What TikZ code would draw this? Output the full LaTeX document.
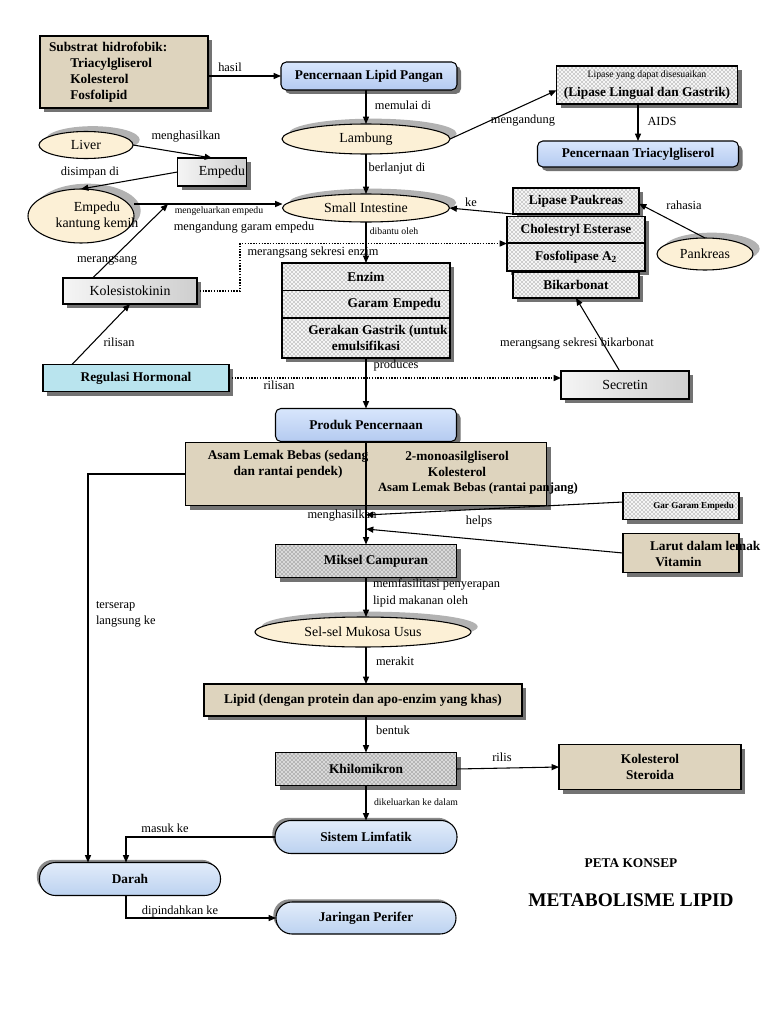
\documentclass[tikz,border=0pt]{standalone}
\usepackage{fontspec}
\setmainfont{Liberation Serif}
\usetikzlibrary{shapes.geometric, arrows.meta, shadows, patterns}
\definecolor{tanc}{RGB}{222,212,190}
\definecolor{creamc}{RGB}{252,240,214}
\definecolor{bluet}{RGB}{216,230,252}
\definecolor{blueb}{RGB}{180,202,240}
\definecolor{cyanc}{RGB}{185,228,238}
\definecolor{pillt}{RGB}{226,236,250}
\definecolor{pillb}{RGB}{188,210,240}
\tikzset{
  wh/.style 2 args={minimum width=#1*0.75pt, minimum height=#2*0.75pt},
  bx/.style={draw=black, line width=0.8pt, font=\fontsize{10}{12}\selectfont\bfseries},
  boxshadow/.style={drop shadow={shadow xshift=3pt, shadow yshift=-3pt, fill=black!55, opacity=1}},
  tanbox/.style={bx, boxshadow, fill=tanc},
  dotbox/.style={bx, boxshadow, preaction={fill=gray!8}, pattern=crosshatch dots, pattern color=black!70},
  densebox/.style={bx, boxshadow, preaction={fill=gray!30}, pattern=crosshatch dots, pattern color=black!75},
  marble/.style={bx, font=\fontsize{10.4}{12}\selectfont, boxshadow, left color=gray!8, right color=gray!38},
  bluebox/.style={bx, boxshadow, rounded corners=4pt, top color=bluet, bottom color=blueb},
  pill/.style={bx, rounded corners=12pt, top color=pillt, bottom color=pillb, drop shadow={shadow xshift=-2pt, shadow yshift=2pt, fill=black!45, opacity=1}},
  ell/.style={ellipse, draw=black, line width=0.8pt, fill=creamc, font=\fontsize{10.4}{12}\selectfont, drop shadow={shadow xshift=5pt, shadow yshift=4pt, fill=black!30, opacity=1}},
  lbl/.style={font=\fontsize{9.3}{11}\selectfont},
  tinylbl/.style={font=\fontsize{7.3}{9}\selectfont},
  conn/.style={line width=0.8pt, -{Triangle[length=5.5pt,width=4.5pt]}},
  dotconn/.style={line width=1.1pt, densely dotted, -{Triangle[length=5.5pt,width=4.5pt]}}
}
\begin{document}
\begin{tikzpicture}[x=0.75pt, y=-0.75pt, every node/.style={inner sep=0pt, outer sep=0pt}]
\fill[white] (0,0) rectangle (768,1024);
\path[use as bounding box] (0,0) rectangle (768,1024);

% ---------- top ----------
\node[tanbox, wh={168}{72}, text width=112.5pt, align=left] (sub) at (124,72)
  {Substrat hidrofobik:\\\hspace*{16pt}Triacylgliserol\\\hspace*{16pt}Kolesterol\\\hspace*{16pt}Fosfolipid};
\node[bluebox, wh={176}{28}] (pl) at (369,76) {Pencernaan Lipid Pangan};
\node[ell, wh={168}{30}] (lam) at (366,139) {Lambung};
\node[dotbox, wh={181}{38}, align=center] (lip) at (647,85)
  {{\fontsize{7.3}{8}\selectfont\mdseries Lipase yang dapat disesuaikan}\\[2pt](Lipase Lingual dan Gastrik)};
\node[bluebox, wh={201}{26}] (ptg) at (638,154) {Pencernaan Triacylgliserol};
\node[ell, wh={167}{28}] (si) at (366,208) {Small Intestine};
\node[ell, wh={94}{27}] (liver) at (86,145) {Liver};
\node[marble, wh={69}{28}, text width=49.5pt, align=right] (emp) at (212,172) {Empedu};
\node[ell, wh={106}{54}] (gb) at (81,216) {};
\node[font=\fontsize{10.4}{12}\selectfont, align=center] (gbt) at (97,216) {Empedu\\kantung kemih};
\node[marble, wh={134}{26}] (kol) at (130,291) {Kolesistokinin};
\node[bx, boxshadow, fill=cyanc, wh={186}{27}] (reg) at (136,378) {Regulasi Hormonal};
\node[marble, wh={128}{28}] (sec) at (625,385) {Secretin};

% pancreas stack
\node[dotbox, wh={126}{26}] (lpk) at (576,201) {Lipase Paukreas};
\node[dotbox, wh={138}{27}] (che) at (576,230) {Cholestryl Esterase};
\node[dotbox, wh={138}{28}] (fos) at (576,257) {Fosfolipase A\textsubscript{2}};
\node[dotbox, wh={126}{26}] (bik) at (576,285) {Bikarbonat};
\node[ell, wh={96}{32}] (pan) at (705,254) {Pankreas};

% helper stack
\node[dotbox, wh={168}{28}] (enz) at (366,277) {Enzim};
\node[dotbox, wh={168}{27}, text width=112.5pt, align=right] (gar) at (366,304) {Garam Empedu};
\node[dotbox, wh={168}{40}, align=center] (ger) at (366,338) {\hspace*{18pt}Gerakan Gastrik (untuk\\emulsifikasi};

% ---------- middle ----------
\node[bluebox, wh={181}{33}] (pp) at (366,425) {Produk Pencernaan};
\node[tanbox, wh={361}{63}] (prod) at (366,474) {};
\node[font=\fontsize{10}{12}\selectfont\bfseries, align=center] (pa) at (288,464) {Asam Lemak Bebas (sedang\\dan rantai pendek)};
\node[font=\fontsize{10}{12}\selectfont\bfseries, align=center] (pb) at (457,464) {2-monoasilgliserol\\Kolesterol};
\node[font=\fontsize{9.5}{11}\selectfont\bfseries] (pc) at (478,488) {Asam Lemak Bebas (rantai panjang)};

\node[dotbox, wh={116}{27}, font=\fontsize{6.8}{8}\selectfont\bfseries] (gg) at (681,506) {\hspace*{19pt}Gar Garam Empedu};
\node[tanbox, wh={116}{39}] (vit) at (681,553) {};
\node[font=\fontsize{10}{12}\selectfont\bfseries, align=left, anchor=west] (vitt) at (650,554) {Larut dalam lemak\\\hspace*{4pt}Vitamin};

\node[densebox, wh={181}{33}] (miks) at (366,561) {\hspace*{15pt}Miksel Campuran};
\node[ell, wh={216}{30}] (sel) at (363,632) {Sel-sel Mukosa Usus};
\node[tanbox, wh={318}{32}] (lip2) at (363,700) {Lipid (dengan protein dan apo-enzim yang khas)};
\node[densebox, wh={181}{33}] (khi) at (366,769) {Khilomikron};
\node[tanbox, wh={182}{45}, align=center] (ks) at (650,767) {Kolesterol\\Steroida};
\node[pill, wh={182}{33}] (lim) at (366,837) {Sistem Limfatik};
\node[pill, wh={181}{33}] (dar) at (130,879) {Darah};
\node[pill, wh={180}{32}] (jar) at (366,918) {Jaringan Perifer};

\node[font=\fontsize{10}{12}\selectfont\bfseries] (t1) at (631,863) {PETA KONSEP};
\node[font=\fontsize{14.5}{17}\selectfont\bfseries] (t2) at (631,900) {METABOLISME LIPID};

% ---------- labels ----------
\node[lbl] (l1) at (230,67) {hasil};
\node[lbl] (l2) at (403,105) {memulai di};
\node[lbl] (l3) at (523,121) {mengandung};
\node[lbl] (l4) at (662,121) {AIDS};
\node[lbl] (l5) at (186,137) {menghasilkan};
\node[lbl] (l6) at (90,173) {disimpan di};
\node[lbl] (l7) at (397,169) {berlanjut di};
\node[lbl] (l8) at (471,202) {ke};
\node[lbl] (l9) at (684,205) {rahasia};
\node[tinylbl] (l10) at (219,211) {mengeluarkan empedu};
\node[lbl] (l11) at (244,228) {mengandung garam empedu};
\node[tinylbl] (l12) at (394,231) {dibantu oleh};
\node[lbl] (l13) at (313,253) {merangsang sekresi enzim};
\node[lbl] (l14) at (107,261) {merangsang};
\node[lbl] (l15) at (119,342) {rilisan};
\node[lbl] (l16) at (279,385) {rilisan};
\node[lbl] (l17) at (396,366) {produces};
\node[lbl] (l18) at (577,344) {merangsang sekresi bikarbonat};
\node[lbl] (l19) at (342,516) {menghasilkan};
\node[lbl] (l20) at (479,522) {helps};
\node[lbl, anchor=west] (l21) at (373,584) {memfasilitasi penyerapan};
\node[lbl, anchor=west] (l22) at (373,602) {lipid makanan oleh};
\node[lbl, anchor=west] (l23) at (96,606) {terserap};
\node[lbl, anchor=west] (l24) at (96,622) {langsung ke};
\node[lbl] (l25) at (395,661) {merakit};
\node[lbl] (l26) at (393,730) {bentuk};
\node[lbl] (l27) at (502,757) {rilis};
\node[tinylbl] (l28) at (416,802) {dikeluarkan ke dalam};
\node[lbl] (l29) at (165,828) {masuk ke};
\node[lbl] (l30) at (180,912) {dipindahkan ke};

% ---------- connectors ----------
\draw[conn] (sub.east |- pl.west) -- (pl.west);
\draw[conn] (lam.north |- pl.south) -- (lam.north);
\draw[conn] (lam.east) -- ([yshift=-4pt]lip.west);
\draw[conn] (ptg.north |- lip.south) -- (ptg.north);
\draw[conn] (lam.south) -- (si.north);
\draw[conn] (liver.east) -- (emp.north);
\draw[conn] (emp.west) -- (gb.north);
\draw[conn] ([yshift=9pt]gb.east) -- ([yshift=3pt]si.west);
\coordinate (cm) at (168,204);
\draw[conn] ([xshift=-28pt]kol.north) -- (cm);
\draw[conn] ([xshift=-48pt]reg.north) -- (kol.south);
\draw[dotconn] (kol.east) -- ++(43,0) |- (che.south west);
\draw[conn] (lpk.south west) -- (si.east);
\draw[conn] (pan.north) -- ([yshift=-2pt]lpk.east);
\draw[conn] ([xshift=-4pt]sec.north) -- (bik.south);
\draw[dotconn] (reg.east) -- (reg.east -| sec.west);
\draw[conn] (si.south) -- (enz.north);
\draw[conn] (ger.south) -- (pp.north);
\draw[conn] (pp.south) -- (miks.north);
\draw[conn] (prod.west) -| ([xshift=-31.5pt]dar.north);
\coordinate (mh) at (366,515);
\coordinate (mv) at (366,529);
\draw[conn] ([yshift=3pt]gg.west) -- (mh);
\draw[conn] (vit.west) -- (mv);
\draw[conn] (miks.south) -- (miks.south |- sel.north);
\draw[conn] (sel.south -| miks.south) -- (lip2.north -| miks.south);
\draw[conn] (khi.north |- lip2.south) -- (khi.north);
\draw[conn] (khi.east) -- (ks.west);
\draw[conn] (khi.south) -- (lim.north);
\draw[conn] (lim.west) -| ([xshift=-3pt]dar.north);
\draw[conn] ([xshift=-3pt]dar.south) |- (jar.west);
\end{tikzpicture}
\end{document}
